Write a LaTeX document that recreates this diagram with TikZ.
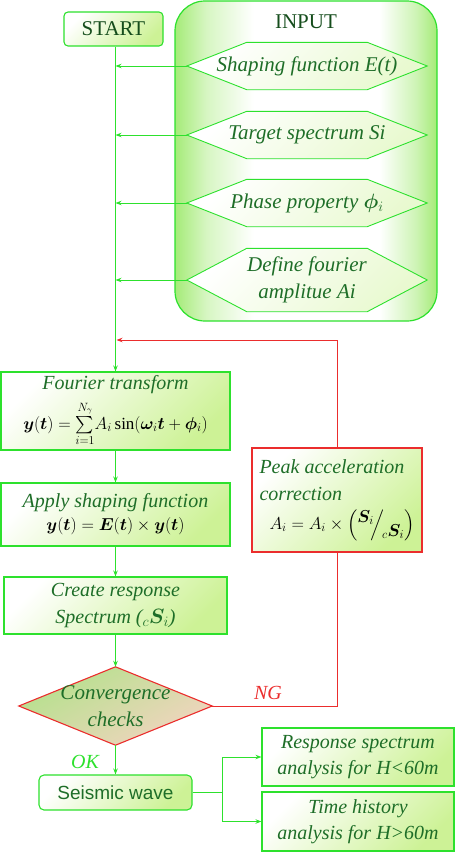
\documentclass[tikz,border=0pt]{standalone}
\usepackage{amsmath}
\usepackage{bm}
\usepackage{fontspec}
\setmainfont{Liberation Serif}[ItalicFont={Liberation Serif Italic},BoldFont={Liberation Serif Bold},BoldItalicFont={Liberation Serif Bold Italic}]
\setsansfont{Liberation Sans}
\usetikzlibrary{arrows.meta}
\definecolor{lgreen}{RGB}{45,225,45}
\definecolor{tgreen}{RGB}{30,110,40}
\definecolor{rred}{RGB}{235,45,45}
\definecolor{boxg}{RGB}{205,242,150}
\definecolor{inpg}{RGB}{165,235,120}
\definecolor{pinkf}{RGB}{242,212,192}
\definecolor{diag}{RGB}{180,225,140}
\pgfdeclarehorizontalshading{inshade}{100bp}{color(0bp)=(inpg); color(25bp)=(inpg); color(31bp)=(inpg!45); color(40bp)=(white); color(64bp)=(white); color(71bp)=(inpg!55); color(75bp)=(inpg); color(100bp)=(inpg)}
\begin{document}
\begin{tikzpicture}[x=1pt,y=-1pt,
  fbox/.style={draw=lgreen,line width=1.1pt,top color=white,bottom color=boxg,shading angle=45,
    inner sep=2pt,align=center,text=tgreen,font=\fontsize{20}{27}\selectfont\itshape},
  rbox/.style={fbox,draw=rred},
  hexn/.style={inner sep=0pt,align=center,text=tgreen,font=\fontsize{21}{27}\selectfont\itshape},
  hexd/.style={draw=lgreen,line width=0.9pt,top color=white,bottom color=boxg!45,shading angle=45},
  gline/.style={draw=lgreen,line width=1pt},
  garrow/.style={gline,-{Stealth[length=6pt,width=4.5pt]}},
  rline/.style={draw=rred,line width=1pt},
  rarrow/.style={rline,-{Stealth[length=6pt,width=4.5pt]}}
]
\useasboundingbox (0,0) rectangle (474,852);
% INPUT container
\node[draw=lgreen,line width=1.2pt,rounded corners=30pt,shading=inshade,
  minimum width=262pt,minimum height=320pt,inner sep=0pt] (inputbox) at (306,161) {};
\node[text=tgreen!70!black,font=\fontsize{21}{24}\selectfont] (inputlabel) at (306,22) {INPUT};
% START
\node[fbox,font=\fontsize{21}{24}\selectfont,text=tgreen!70!black,rounded corners=4pt,minimum width=99pt,minimum height=34pt] (start) at (113.5,29) {START};
% hexagons
\foreach \n/\yy/\hh/\txt in {h1/66/47/{Shaping function E(t)},h2/135/47/{Target spectrum Si},h3/203/47/{Phase property $\bm{\phi}_{i}$},h4/280/63/{Define fourier\\amplitue Ai}}{
  \node[hexn,minimum width=240pt,minimum height=\hh pt] (\n) at (307,\yy) {};
  \draw[hexd] ([xshift=60pt]\n.north west) -- ([xshift=-60pt]\n.north east) -- (\n.east)
     -- ([xshift=-60pt]\n.south east) -- ([xshift=60pt]\n.south west) -- (\n.west) -- cycle;
  \node[hexn] at (\n) {\txt};
}
% main boxes
\node[fbox,minimum width=229pt,minimum height=78pt] (four) at (115.5,411)
  {Fourier transform\\[6pt]{\fontsize{17}{20}\selectfont\upshape\color{black}$\bm{y}(\bm{t})=\sum\limits_{i=1}^{N_\gamma}\!A_i\sin(\bm{\omega}_i\bm{t}+\bm{\phi}_i)$}};
\node[fbox,minimum width=229pt,minimum height=63pt] (apply) at (115.5,514.5)
  {Apply shaping function\\[-4pt]{\fontsize{17}{20}\selectfont\upshape\color{black}$\bm{y}(\bm{t})=\bm{E}(\bm{t})\times\bm{y}(\bm{t})$}};
\node[fbox,minimum width=223pt,minimum height=57pt] (create) at (115.5,605.5)
  {Create response\\Spectrum (${}_c\bm{S}_i$)};
% diamond
\node[minimum width=193pt,minimum height=78pt,inner sep=0pt] (conv) at (115.5,706) {};
\shade[draw=rred,line width=1.1pt,left color=diag,right color=pinkf,shading angle=30]
  (conv.north) -- (conv.east) -- (conv.south) -- (conv.west) -- cycle;
\node[align=center,text=tgreen,font=\fontsize{21}{27}\selectfont\itshape] at (conv) {Convergence\\checks};
\node[rbox,minimum width=170pt,minimum height=104pt,align=left] (peak) at (337,500)
  {Peak acceleration\\correction\\[2pt]
   \hspace*{10pt}{\fontsize{18}{20}\selectfont\upshape\color{black}$A_i=A_i\times\left(\raisebox{7pt}{$\bm{S}_i$}\!\Big/\!\raisebox{-7pt}{${}_c\bm{S}_i$}\right)$}};
\node[fbox,rounded corners=5pt,minimum width=153pt,minimum height=35pt,font=\fontsize{19}{22}\selectfont\sffamily] (seis) at (115.5,792.5) {Seismic wave};
\node[fbox,minimum width=192pt,minimum height=58pt,font=\fontsize{20}{26}\selectfont\itshape] (resp) at (358,757)
  {Response spectrum\\analysis for H{<}60m};
\node[fbox,minimum width=192pt,minimum height=59pt,font=\fontsize{20}{26}\selectfont\itshape] (timeh) at (358,821.5)
  {Time history\\analysis for H{>}60m};
% connectors
\coordinate (loop) at (116.5,340);
\coordinate (fork) at (222,792.5);
\draw[garrow] (start.south -| four.north) -- (four.north);
\foreach \n in {h1,h2,h3,h4}{\draw[garrow] (\n.west) -- (\n.west -| four.north);}
\draw[rarrow] (peak.north) |- (loop);
\draw[garrow] (four.south) -- (apply.north);
\draw[garrow] (apply.south) -- (create.north);
\draw[garrow] (create.south) -- (conv.north);
\draw[rline] (conv.east) -| (peak.south);
\node[text=rred,font=\fontsize{20}{24}\selectfont\itshape] (ng) at (268,693) {NG};
\draw[garrow] (conv.south) -- (seis.north);
\node[text=lgreen,font=\fontsize{20}{24}\selectfont\itshape] (ok) at (85,762) {OK};
\draw[gline] (seis.east) -- (fork);
\draw[garrow] (fork) |- (resp.west);
\draw[garrow] (fork) |- (timeh.west);
\end{tikzpicture}
\end{document}
